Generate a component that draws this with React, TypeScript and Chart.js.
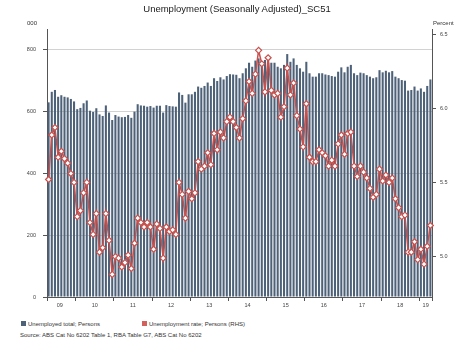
import React, { useEffect, useRef } from "react";
import { Chart, registerables } from "chart.js";

Chart.register(...registerables);

// Monthly data, Apr 2009 .. Apr 2019
const START_YEAR = 2009;
const START_MONTH = 3; // April (0-based)

const yearLabels = ["09", "10", "11", "12", "13", "14", "15", "16", "17", "18", "19"];

// Unemployed total; Persons ('000)
const unemployedTotal = [
  629, 663, 669, 647, 652, 647, 645, 640, 632,
  607, 611, 626, 635, 602, 598, 610, 590, 585, 619, 596, 572,
  588, 583, 581, 582, 588, 579, 599, 623, 619, 618, 615, 617,
  612, 618, 618, 596, 620, 617, 616, 615, 661, 653, 628, 655,
  655, 663, 680, 676, 682, 693, 682, 707, 698, 710, 703, 714,
  720, 719, 718, 707, 723, 739, 757, 744, 764, 771, 750, 766,
  757, 757, 757, 744, 739, 750, 785, 760, 771, 750, 739, 728,
  760, 723, 712, 712, 723, 723, 719, 717, 714, 712, 728, 742,
  726, 744, 750, 723, 717, 725, 723, 717, 712, 707, 710, 733,
  726, 731, 726, 730, 712, 707, 701, 699, 667, 669, 680, 667,
  674, 663, 682, 703,
];

// Unemployment rate; Persons (RHS, %)
const unemploymentRate = [
  5.52, 5.82, 5.87, 5.67, 5.71, 5.66, 5.63, 5.56, 5.50,
  5.27, 5.31, 5.43, 5.50, 5.23, 5.15, 5.29, 5.03, 5.06, 5.29, 5.11, 4.88,
  5.00, 4.99, 4.93, 4.96, 5.01, 4.92, 5.09, 5.26, 5.23, 5.20, 5.23, 5.20,
  5.05, 5.22, 5.19, 4.99, 5.20, 5.17, 5.18, 5.15, 5.50, 5.42, 5.26, 5.44,
  5.39, 5.43, 5.64, 5.59, 5.61, 5.70, 5.62, 5.83, 5.72, 5.84, 5.80, 5.91,
  5.94, 5.91, 5.87, 5.80, 5.93, 6.05, 6.18, 6.10, 6.23, 6.39, 6.30, 6.11,
  6.34, 6.12, 6.09, 6.10, 5.94, 6.01, 6.27, 6.09, 6.17, 5.95, 5.86, 5.74,
  6.03, 5.67, 5.64, 5.64, 5.72, 5.70, 5.68, 5.61, 5.65, 5.61, 5.76, 5.82,
  5.69, 5.83, 5.84, 5.61, 5.54, 5.61, 5.57, 5.53, 5.46, 5.40, 5.42, 5.59,
  5.51, 5.55, 5.50, 5.53, 5.39, 5.33, 5.27, 5.28, 5.03, 5.03, 5.10, 4.98,
  5.05, 4.95, 5.07, 5.21,
];

const leftTicks = [0, 200, 400, 600, 800];
const rightTicks = [5.0, 5.5, 6.0, 6.5];

const BAR_COLOR = "#4d6179";
const LINE_COLOR = "#c9504c";
const AXIS_COLOR = "#555";
const FONT = "'Liberation Sans', Arial, Helvetica, sans-serif";

const monthOf = (i: number) => (START_MONTH + i) % 12;
const yearIdxOf = (i: number) => Math.floor((START_MONTH + i) / 12);

const categories = unemployedTotal.map((_, i) => {
  const m = monthOf(i) + 1;
  return `${START_YEAR + yearIdxOf(i)}-${m < 10 ? "0" + m : m}`;
});

// index at which each year's label is placed (middle of visible months)
function yearLabelIndex(): Record<number, string> {
  const map: Record<number, string> = {};
  const n = categories.length;
  yearLabels.forEach((lab, y) => {
    let first = -1;
    let last = -1;
    for (let i = 0; i < n; i++) {
      if (yearIdxOf(i) === y) {
        if (first < 0) first = i;
        last = i;
      }
    }
    if (first >= 0) map[Math.floor((first + last + 1) / 2)] = lab;
  });
  return map;
}
const labelMap = yearLabelIndex();

export default function App() {
  const ref = useRef<HTMLCanvasElement | null>(null);

  useEffect(() => {
    if (!ref.current) return;
    Chart.defaults.font.family = FONT;
    const chart = new Chart(ref.current, {
      type: "bar",
      data: {
        labels: categories,
        datasets: [
          {
            type: "line",
            label: "Unemployment rate; Persons (RHS)",
            data: unemploymentRate,
            yAxisID: "y1",
            borderColor: LINE_COLOR,
            borderWidth: 1.5,
            pointStyle: "rectRot",
            pointRadius: 3,
            pointBackgroundColor: "#ffffff",
            pointBorderColor: LINE_COLOR,
            pointBorderWidth: 1.2,
            tension: 0,
            order: 0,
          } as any,
          {
            type: "bar",
            label: "Unemployed total; Persons",
            data: unemployedTotal,
            yAxisID: "y",
            backgroundColor: BAR_COLOR,
            barPercentage: 0.65,
            categoryPercentage: 1,
            order: 1,
          },
        ],
      },
      options: {
        responsive: false,
        animation: false,
        devicePixelRatio: 1,
        layout: { padding: { top: 29, left: 0, right: 0, bottom: 0 } },
        plugins: {
          legend: { display: false },
          title: { display: false },
          tooltip: { enabled: false },
        },
        scales: {
          x: {
            type: "category",
            offset: true,
            grid: {
              offset: true,
              drawOnChartArea: false,
              drawTicks: true,
              tickLength: 4,
              tickColor: (ctx: any) => {
                const i = ctx.index;
                if (i === undefined || i === null || i >= categories.length) return AXIS_COLOR;
                if (i === 0) return AXIS_COLOR;
                return monthOf(i) === 0 ? AXIS_COLOR : "rgba(0,0,0,0)";
              },
            },
            border: { display: true, color: AXIS_COLOR, width: 1 },
            ticks: {
              autoSkip: false,
              maxRotation: 0,
              minRotation: 0,
              padding: 1,
              labelOffset: -1.6,
              color: "#444",
              font: { size: 5.5 },
              callback: (_v: any, index: number) => labelMap[index] ?? "",
            },
            afterFit: (s: any) => {
              s.height = 13;
            },
          },
          y: {
            type: "linear",
            position: "left",
            min: 0,
            max: 866,
            grid: {
              color: (ctx: any) =>
                ctx.tick && ctx.tick.value === 0 ? "rgba(0,0,0,0)" : "#d2d2d2",
              tickColor: AXIS_COLOR,
              tickLength: 4,
              lineWidth: 1,
            },
            border: { display: true, color: AXIS_COLOR, width: 1 },
            ticks: {
              padding: 7,
              color: "#444",
              font: { size: 5.5 },
              callback: (v: any) => String(v),
            },
            afterBuildTicks: (s: any) => {
              s.ticks = leftTicks.map((v) => ({ value: v }));
            },
            afterFit: (s: any) => {
              s.width = 47;
            },
          },
          y1: {
            type: "linear",
            position: "right",
            min: 4.728,
            max: 6.534,
            grid: {
              drawOnChartArea: false,
              tickColor: AXIS_COLOR,
              tickLength: 4,
            },
            border: { display: true, color: AXIS_COLOR, width: 1 },
            ticks: {
              padding: 4,
              color: "#444",
              font: { size: 5.5 },
              callback: (v: any) => Number(v).toFixed(1),
            },
            afterBuildTicks: (s: any) => {
              s.ticks = rightTicks.map((v) => ({ value: v }));
            },
            afterFit: (s: any) => {
              s.width = 42;
            },
          },
        },
      } as any,
    });
    return () => chart.destroy();
  }, []);

  const textBase: React.CSSProperties = {
    position: "absolute",
    fontFamily: FONT,
    color: "#333",
    whiteSpace: "nowrap",
    lineHeight: 1,
  };

  return (
    <div
      style={{
        position: "fixed",
        left: 0,
        top: 0,
        width: 474,
        height: 355,
        background: "#ffffff",
        overflow: "hidden",
      }}
    >
      <canvas ref={ref} width={474} height={310} style={{ position: "absolute", left: 0, top: 0 }} />
      <div
        style={{
          ...textBase,
          left: 0,
          top: 4,
          width: 474,
          textAlign: "center",
          fontSize: 9.5,
          color: "#1a1a1a",
        }}
      >
        Unemployment (Seasonally Adjusted)_SC51
      </div>
      <div style={{ ...textBase, left: 27, top: 20, fontSize: 6 }}>000</div>
      <div style={{ ...textBase, left: 433, top: 20, fontSize: 6 }}>Percent</div>
      <div style={{ ...textBase, left: 21, top: 321, width: 5, height: 5, background: BAR_COLOR }} />
      <div style={{ ...textBase, left: 28, top: 320.5, fontSize: 6 }}>Unemployed total; Persons</div>
      <div style={{ ...textBase, left: 142, top: 321, width: 5, height: 5, background: "#d2605c" }} />
      <div style={{ ...textBase, left: 149, top: 320.5, fontSize: 6 }}>Unemployment rate; Persons (RHS)</div>
      <div style={{ ...textBase, left: 20, top: 331.5, fontSize: 6 }}>
        Source: ABS Cat No 6202 Table 1, RBA Table G7, ABS Cat No 6202
      </div>
    </div>
  );
}
